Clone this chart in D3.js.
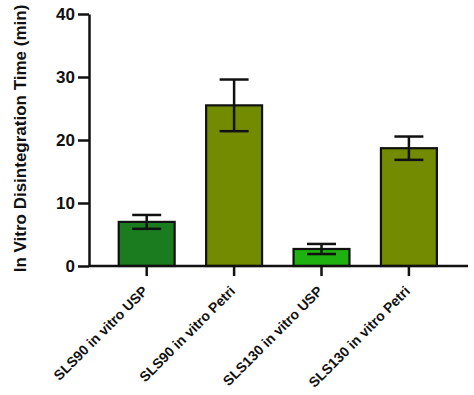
<!DOCTYPE html>
<html><head><meta charset="utf-8">
<script src="https://cdn.jsdelivr.net/npm/d3@7"></script>
<style>body{margin:0;background:#fff}svg{display:block}text{font-family:"Liberation Sans",Arial,sans-serif;font-weight:bold}</style>
</head><body>
<svg id="c" width="474" height="395"></svg>
<script>
const categories = ["SLS90 in vitro USP","SLS90 in vitro Petri","SLS130 in vitro USP","SLS130 in vitro Petri"];
const means = [7.0, 25.5, 2.7, 18.7];
const errors = [1.1, 4.1, 0.8, 1.85];
const colors = ["#1b7b1f","#728b00","#1fb10f","#728b00"];
const yTicks = [0,10,20,30,40];
const yTitle = "In Vitro Disintegration Time (min)";

(function(){
const svg = d3.select("#c");
const mL = 89, mR = 468, mT = 14, mB = 266;
const x = d3.scaleBand().domain(categories).range([92.5, 463.1]).paddingInner(0.36).paddingOuter(0.3);
const y = d3.scaleLinear().domain([0,40]).range([mB, mT]);

const data = categories.map((c,i)=>({c, m:means[i], e:errors[i], col:colors[i]}));

svg.selectAll("rect.bar").data(data).join("rect")
  .attr("x", d=>x(d.c)).attr("width", x.bandwidth())
  .attr("y", d=>y(d.m)).attr("height", d=>y(0)-y(d.m))
  .attr("fill", d=>d.col).attr("stroke","#111").attr("stroke-width",2.2);

const capW = 29;
const cx = d=>x(d.c)+x.bandwidth()/2;
const eb = svg.selectAll("g.eb").data(data).join("g").attr("stroke","#111").attr("stroke-width",2.5);
eb.append("line").attr("x1",cx).attr("x2",cx)
  .attr("y1",d=>y(d.m+d.e)).attr("y2",d=>y(d.m-d.e));
eb.append("line").attr("x1",d=>cx(d)-capW/2).attr("x2",d=>cx(d)+capW/2)
  .attr("y1",d=>y(d.m+d.e)).attr("y2",d=>y(d.m+d.e));
eb.append("line").attr("x1",d=>cx(d)-capW/2).attr("x2",d=>cx(d)+capW/2)
  .attr("y1",d=>y(d.m-d.e)).attr("y2",d=>y(d.m-d.e));

const ya = svg.append("g").attr("transform",`translate(${mL},0)`)
  .call(d3.axisLeft(y).tickValues(yTicks).tickSize(11).tickPadding(3).tickSizeOuter(0));
ya.select(".domain").attr("stroke","#111").attr("stroke-width",2.5);
ya.selectAll(".tick line").attr("stroke","#111").attr("stroke-width",2.5);
ya.selectAll(".tick text").attr("font-size",17).attr("fill","#111").attr("font-family","Liberation Sans, Arial, sans-serif").attr("font-weight","bold");

const xa = svg.append("g").attr("transform",`translate(0,${mB})`)
  .call(d3.axisBottom(x).tickSize(10).tickSizeOuter(0));
xa.select(".domain").attr("d",`M${mL},0H${mR}`).attr("stroke","#111").attr("stroke-width",2.5);
xa.selectAll(".tick line").attr("stroke","#111").attr("stroke-width",2.5);
xa.selectAll(".tick text").attr("font-size",14).attr("fill","#111")
  .attr("font-family","Liberation Sans, Arial, sans-serif").attr("font-weight","bold")
  .attr("text-anchor","end").attr("dy",null).attr("y",0)
  .attr("transform","translate(2,26) rotate(-45)");

svg.append("text").attr("transform",`translate(26,138.5) rotate(-90)`)
  .attr("text-anchor","middle").attr("font-size",17).attr("fill","#111").text(yTitle);
})();
</script>
</body></html>
